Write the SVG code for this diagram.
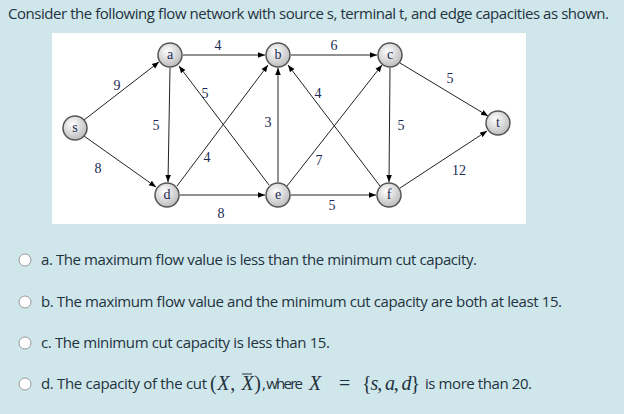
<svg xmlns="http://www.w3.org/2000/svg" width="624" height="414" viewBox="0 0 624 414">
<defs>
<radialGradient id="ng" cx="0.4" cy="0.35" r="0.7"><stop offset="0" stop-color="#ffffff"/><stop offset="1" stop-color="#b8b8b8"/></radialGradient>
<marker id="ar" viewBox="0 0 10 10" refX="10" refY="5" markerWidth="7" markerHeight="7" orient="auto" markerUnits="userSpaceOnUse"><path d="M0,1 L10,5 L0,9 z" fill="#000"/></marker>
<style>
.t{font-family:"Open Sans","Noto Sans",sans-serif;font-size:15px;fill:#1f3340}
.n circle{fill:url(#ng);stroke:#555;stroke-width:1.5}
.n text{font-family:"Liberation Serif",serif;font-size:14px;fill:#1a2a55;text-anchor:middle}
.lab{font-family:"Liberation Serif",serif;font-size:14px;fill:#1a2a55;text-anchor:middle}
.e line{stroke:#222;stroke-width:1;marker-end:url(#ar)}
.m{font-family:"Liberation Serif",serif;font-size:20px;fill:#1f3340}
.radio{fill:#fff;stroke:#999;stroke-width:1}
</style>
</defs>
<rect width="624" height="414" fill="#cfe6eb"/>
<text class="t" x="8" y="19" textLength="601">Consider the following flow network with source s, terminal t, and edge capacities as shown.</text>
<rect x="52" y="33" width="474" height="191" fill="#fff"/>
<g id="connectors" class="e">
<line x1="84" y1="120" x2="159" y2="62"/>
<line x1="84" y1="136" x2="156" y2="187"/>
<line x1="183" y1="55" x2="265" y2="55"/>
<line x1="170" y1="68" x2="168" y2="182"/>
<line x1="269" y1="185" x2="179" y2="66"/>
<line x1="177" y1="186" x2="268" y2="65"/>
<line x1="180" y1="195" x2="265" y2="195"/>
<line x1="278" y1="182" x2="278" y2="68"/>
<line x1="291" y1="55" x2="377" y2="55"/>
<line x1="287" y1="186" x2="382" y2="65"/>
<line x1="380" y1="186" x2="288" y2="65"/>
<line x1="291" y1="195" x2="376" y2="195"/>
<line x1="390" y1="68" x2="389" y2="182"/>
<line x1="400" y1="63" x2="488" y2="116"/>
<line x1="400" y1="188" x2="487" y2="131"/>
</g>
<g id="labels">
<text class="lab" x="218" y="50">4</text>
<text class="lab" x="117" y="90">9</text>
<text class="lab" x="156" y="130">5</text>
<text class="lab" x="205" y="98">5</text>
<text class="lab" x="98" y="173">8</text>
<text class="lab" x="207" y="162">4</text>
<text class="lab" x="221" y="218">8</text>
<text class="lab" x="268" y="127">3</text>
<text class="lab" x="334" y="50">6</text>
<text class="lab" x="318" y="98">4</text>
<text class="lab" x="319" y="165">7</text>
<text class="lab" x="332" y="210">5</text>
<text class="lab" x="401" y="130">5</text>
<text class="lab" x="450" y="83">5</text>
<text class="lab" x="459" y="175">12</text>
</g>
<g id="s" class="n"><circle cx="75" cy="128" r="12"/><text x="75" y="132">s</text></g>
<g id="a" class="n"><circle cx="170" cy="55" r="12"/><text x="170" y="59">a</text></g>
<g id="b" class="n"><circle cx="278" cy="55" r="12"/><text x="278" y="59">b</text></g>
<g id="c" class="n"><circle cx="390" cy="55" r="12"/><text x="390" y="59">c</text></g>
<g id="d" class="n"><circle cx="167" cy="195" r="12"/><text x="167" y="199">d</text></g>
<g id="e" class="n"><circle cx="278" cy="195" r="12"/><text x="278" y="199">e</text></g>
<g id="f" class="n"><circle cx="389" cy="195" r="12"/><text x="389" y="199">f</text></g>
<g id="t" class="n"><circle cx="498" cy="123" r="12"/><text x="498" y="127">t</text></g>
<circle class="radio" cx="25" cy="260" r="6"/>
<text class="t" x="41" y="265" textLength="436">a. The maximum flow value is less than the minimum cut capacity.</text>
<circle class="radio" cx="25" cy="302" r="6"/>
<text class="t" x="41" y="307" textLength="521">b. The maximum flow value and the minimum cut capacity are both at least 15.</text>
<circle class="radio" cx="25" cy="343" r="6"/>
<text class="t" x="41" y="348" textLength="289">c. The minimum cut capacity is less than 15.</text>
<circle class="radio" cx="25" cy="384" r="6"/>
<text class="t" x="41" y="389" textLength="166">d. The capacity of the cut</text>
<text class="m" x="210" y="390" textLength="51">(<tspan font-style="italic">X</tspan>, <tspan font-style="italic">X</tspan>)</text>
<line x1="242" y1="374" x2="252" y2="374" stroke="#1f3340" stroke-width="1"/>
<text class="t" x="262" y="389" textLength="41">, where</text>
<text class="m" x="309" y="390" font-style="italic">X</text>
<text class="m" x="339" y="390">=</text>
<text class="m" x="362" y="390" textLength="58">{<tspan font-style="italic">s</tspan>, <tspan font-style="italic">a</tspan>, <tspan font-style="italic">d</tspan>}</text>
<text class="t" x="425" y="389" textLength="107">is more than 20.</text>
</svg>
